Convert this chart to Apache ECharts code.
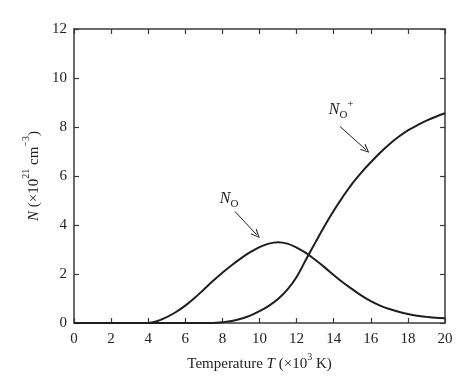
<!DOCTYPE html>
<html>
<head>
<meta charset="utf-8">
<script src="https://cdn.jsdelivr.net/npm/echarts@6/dist/echarts.min.js"></script>
<style>
html,body{margin:0;padding:0;background:#fff;}
#chart{width:474px;height:392px;}
</style>
</head>
<body>
<div id="chart"></div>
<script>
// Temperature (x10^3 K)
const temps = [0,0.5,1,1.5,2,2.5,3,3.5,4,4.5,5,5.5,6,6.5,7,7.5,8,8.5,9,9.5,10,10.5,11,11.5,12,12.5,13,13.5,14,14.5,15,15.5,16,16.5,17,17.5,18,18.5,19,19.5,20];
// N_O (x10^21 cm^-3)
const nO = [0,0,0,0,0,0,0,0,0,0.08,0.24,0.45,0.71,1.02,1.37,1.72,2.05,2.36,2.64,2.89,3.1,3.24,3.3,3.24,3.08,2.86,2.58,2.28,1.96,1.65,1.38,1.12,0.89,0.71,0.57,0.46,0.37,0.3,0.25,0.21,0.19];
// N_O+ (x10^21 cm^-3)
const nOplus = [0,0,0,0,0,0,0,0,0,0,0,0,0,0,0,0,0.03,0.08,0.17,0.3,0.48,0.7,0.98,1.36,1.88,2.58,3.27,3.95,4.58,5.16,5.69,6.15,6.56,6.95,7.3,7.6,7.86,8.07,8.26,8.42,8.56];
const xTicks = {min:0, max:20, interval:2};
const yTicks = {min:0, max:12, interval:2};
// annotation anchors (data coordinates)
const labelNO = [8.36, 5.06];
const arrowNO = [[8.68, 4.55],[9.85, 3.6]];
const labelNOplus = [14.4, 8.7];
const arrowNOplus = [[14.34, 8.02],[15.74, 7.07]];

const serif = '"Liberation Serif", "DejaVu Serif", serif';
const ink = '#1e1e1e';
const axisColor = '#3a3a3a';
const chevron = 'path://M0,10 L5,0 L10,10 L8.6,10 L5,2.6 L1.4,10 Z';

function pairs(xs, ys){ return xs.map((x,i)=>[x, ys[i]]); }

const chart = echarts.init(document.getElementById('chart'), null, {renderer:'canvas'});

const baseAxis = {
  type:'value',
  axisLine:{show:true, onZero:false, lineStyle:{color:axisColor, width:1.5}},
  axisTick:{show:true, inside:true, length:5, lineStyle:{color:axisColor, width:1.2}},
  splitLine:{show:false},
  axisLabel:{color:'#222', fontFamily:serif, fontSize:15}
};

const richName = {
  n:{fontFamily:serif, fontSize:15, color:'#222', fontStyle:'italic', verticalAlign:'bottom', lineHeight:20},
  t:{fontFamily:serif, fontSize:15, color:'#222', verticalAlign:'bottom', lineHeight:20},
  sup:{fontFamily:serif, fontSize:10, color:'#222', verticalAlign:'top', lineHeight:20}
};

const richAnno = {
  n:{fontFamily:serif, fontSize:16, color:'#222', fontStyle:'italic', verticalAlign:'middle', lineHeight:22},
  sub:{fontFamily:serif, fontSize:11, color:'#222', verticalAlign:'bottom', lineHeight:22},
  sup:{fontFamily:serif, fontSize:11, color:'#222', verticalAlign:'top', lineHeight:22}
};

function arrowLine(seg){
  return {
    silent:true, symbol:['none', chevron], symbolSize:[8,9],
    label:{show:false},
    itemStyle:{color:ink},
    lineStyle:{color:ink, width:1, type:'solid'},
    emphasis:{disabled:true},
    data:[[{coord:seg[0], symbol:'none'},{coord:seg[1], symbol:chevron, symbolSize:[8,9]}]]
  };
}

const option = {
  backgroundColor:'#fff',
  animation:false,
  grid:{left:74, right:29, top:29, bottom:69, show:false},
  xAxis:[
    Object.assign({}, baseAxis, xTicks, {
      position:'bottom',
      axisLabel:Object.assign({}, baseAxis.axisLabel, {margin:9}),
      name:'{t|Temperature }{n|T}{t| (×10}{sup|3}{t| K)}',
      nameLocation:'middle', nameGap:28,
      nameTextStyle:{rich:richName}
    }),
    Object.assign({}, baseAxis, xTicks, {
      position:'top',
      axisLabel:{show:false}
    })
  ],
  yAxis:[
    Object.assign({}, baseAxis, yTicks, {
      position:'left',
      axisLabel:Object.assign({}, baseAxis.axisLabel, {margin:7}),
      name:'{n|N}{t| (×10}{sup|21}{t| cm}{sup|−3}{t|)}',
      nameLocation:'middle', nameGap:32, nameRotate:90,
      nameTextStyle:{rich:richName}
    }),
    Object.assign({}, baseAxis, yTicks, {
      position:'right',
      axisLabel:{show:false}
    })
  ],
  series:[
    {
      type:'line', name:'N_O', data:pairs(temps, nO),
      showSymbol:false, smooth:0.4,
      lineStyle:{color:ink, width:2},
      itemStyle:{color:ink},
      z:3,
      markPoint:{
        symbol:'circle', symbolSize:0, silent:true,
        label:{show:true, position:'inside', formatter:'{n|N}{sub|O}', rich:richAnno},
        data:[{coord:labelNO}]
      },
      markLine:arrowLine(arrowNO)
    },
    {
      type:'line', name:'N_O+', data:pairs(temps, nOplus),
      showSymbol:false, smooth:0.4,
      lineStyle:{color:ink, width:2},
      itemStyle:{color:ink},
      z:3,
      markPoint:{
        symbol:'circle', symbolSize:0, silent:true,
        label:{show:true, position:'inside', formatter:'{n|N}{sub|O}{sup|+}', rich:richAnno},
        data:[{coord:labelNOplus}]
      },
      markLine:arrowLine(arrowNOplus)
    }
  ]
};
chart.setOption(option);
</script>
</body>
</html>
